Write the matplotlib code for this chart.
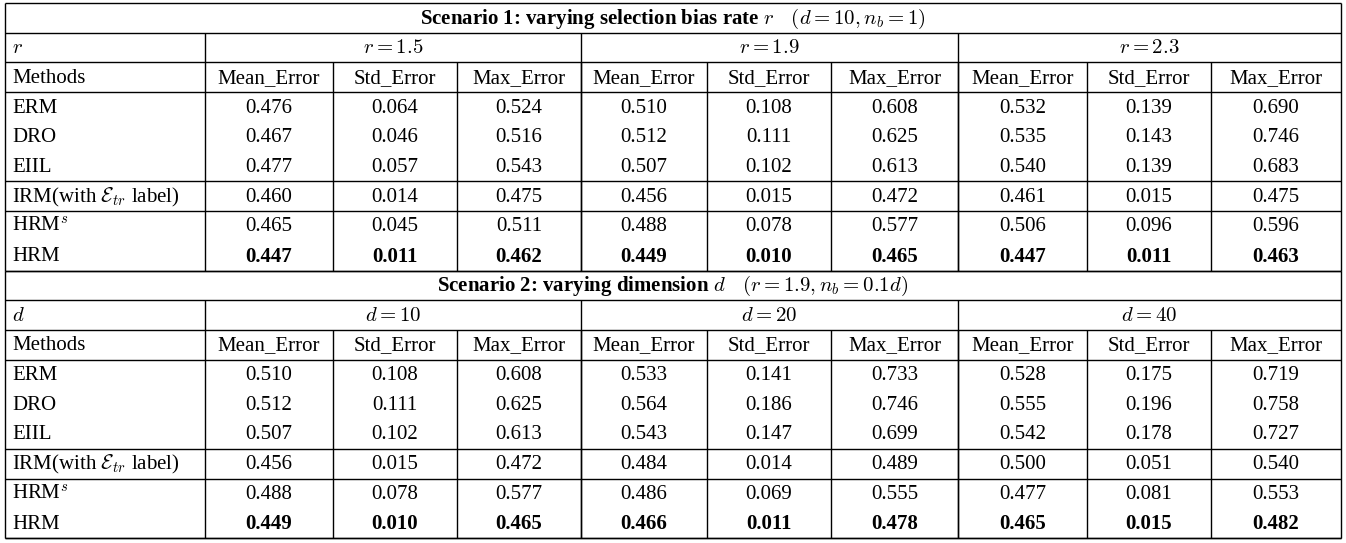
import matplotlib.pyplot as plt

plt.rcParams['font.family'] = ['Liberation Serif', 'DejaVu Serif']
plt.rcParams['mathtext.fontset'] = 'cm'

methods = ["ERM", "DRO", "EIIL", r"IRM(with $\mathcal{E}_{tr}$ label)", r"HRM$^s$", "HRM"]
metrics = ["Mean_Error", "Std_Error", "Max_Error"]

s1_title = r"Scenario 1: varying selection bias rate $r$"
s1_cond = r"$(d=10, n_b=1)$"
s1_var = "$r$"
s1_groups = ["$r=1.5$", "$r=1.9$", "$r=2.3$"]
s1_values = [
    [0.476, 0.064, 0.524, 0.510, 0.108, 0.608, 0.532, 0.139, 0.690],
    [0.467, 0.046, 0.516, 0.512, 0.111, 0.625, 0.535, 0.143, 0.746],
    [0.477, 0.057, 0.543, 0.507, 0.102, 0.613, 0.540, 0.139, 0.683],
    [0.460, 0.014, 0.475, 0.456, 0.015, 0.472, 0.461, 0.015, 0.475],
    [0.465, 0.045, 0.511, 0.488, 0.078, 0.577, 0.506, 0.096, 0.596],
    [0.447, 0.011, 0.462, 0.449, 0.010, 0.465, 0.447, 0.011, 0.463],
]

s2_title = r"Scenario 2: varying dimension $d$"
s2_cond = r"$(r=1.9, n_b=0.1d)$"
s2_var = "$d$"
s2_groups = ["$d=10$", "$d=20$", "$d=40$"]
s2_values = [
    [0.510, 0.108, 0.608, 0.533, 0.141, 0.733, 0.528, 0.175, 0.719],
    [0.512, 0.111, 0.625, 0.564, 0.186, 0.746, 0.555, 0.196, 0.758],
    [0.507, 0.102, 0.613, 0.543, 0.147, 0.699, 0.542, 0.178, 0.727],
    [0.456, 0.015, 0.472, 0.484, 0.014, 0.489, 0.500, 0.051, 0.540],
    [0.488, 0.078, 0.577, 0.486, 0.069, 0.555, 0.477, 0.081, 0.553],
    [0.449, 0.010, 0.465, 0.466, 0.011, 0.478, 0.465, 0.015, 0.482],
]

W, H = 1346, 543
fig = plt.figure(figsize=(W / 100, H / 100), dpi=100)
ax = fig.add_axes([0, 0, 1, 1])
ax.set_xlim(0, W)
ax.set_ylim(H, 0)
ax.axis('off')

cols = [5, 205, 333, 457, 581, 707, 831, 958, 1087, 1211, 1341]
top, bottom = 3, 538
rh = (bottom - top) / 18
fs = 15
lw = 1.0


def hline(y, x0=cols[0], x1=cols[-1]):
    ax.plot([x0, x1], [y, y], color='black', lw=lw, solid_capstyle='butt')


def vline(x, y0, y1):
    ax.plot([x, x], [y0, y1], color='black', lw=lw, solid_capstyle='butt')


def block(r0, title, cond, var, groups, values):
    y = lambda k: top + (r0 + k) * rh
    mid = lambda k: top + (r0 + k + 0.5) * rh + 1
    # title row
    xc = (cols[0] + cols[-1]) / 2
    ax.text(xc, mid(0), title + r"$\quad$" + cond, ha='center', va='center',
            fontsize=fs, fontweight='bold')
    # group row
    ax.text(cols[0] + 7, mid(1), var, ha='left', va='center', fontsize=fs)
    for g, lab in enumerate(groups):
        ax.text((cols[1 + 3 * g] + cols[4 + 3 * g]) / 2, mid(1), lab,
                ha='center', va='center', fontsize=fs)
    # metric row
    ax.text(cols[0] + 7, mid(2), "Methods", ha='left', va='center', fontsize=fs)
    for j in range(9):
        ax.text((cols[1 + j] + cols[2 + j]) / 2, mid(2), metrics[j % 3],
                ha='center', va='center', fontsize=fs)
    # data rows
    for i, (m, row) in enumerate(zip(methods, values)):
        bold = 'bold' if m == "HRM" else 'normal'
        ax.text(cols[0] + 7, mid(3 + i), m, ha='left', va='center', fontsize=fs)
        for j, v in enumerate(row):
            ax.text((cols[1 + j] + cols[2 + j]) / 2, mid(3 + i), f"{v:.3f}",
                    ha='center', va='center', fontsize=fs, fontweight=bold)
    # rules
    for k in [0, 1, 2, 3, 6, 7, 9]:
        hline(y(k))
    vline(cols[0], y(0), y(9))
    vline(cols[-1], y(0), y(9))
    vline(cols[1], y(1), y(9))
    for g in range(1, 3):
        vline(cols[1 + 3 * g], y(1), y(9))
    for j in range(2, 10):
        vline(cols[j], y(2), y(9))


block(0, s1_title, s1_cond, s1_var, s1_groups, s1_values)
block(9, s2_title, s2_cond, s2_var, s2_groups, s2_values)
hline(bottom)

fig.savefig("out.png", dpi=100)
